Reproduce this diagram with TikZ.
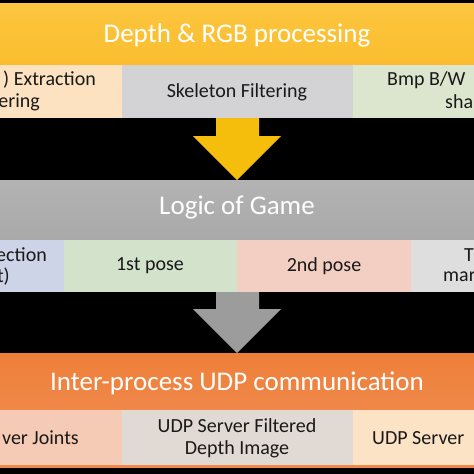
\documentclass[tikz,border=0pt]{standalone}
\usepackage{fontspec}
\setmainfont{Carlito}
\begin{document}
\begin{tikzpicture}[x=1pt,y=-1pt,
  title/.style={text=white,font=\fontsize{27}{30}\selectfont},
  txt/.style={text=black!90,font=\fontsize{20}{22}\selectfont,inner sep=0pt}]
\definecolor{cYel}{HTML}{FBBD2E}
\definecolor{cYelT}{HTML}{FCC63F}
\definecolor{cPeach}{HTML}{FDE2C2}
\definecolor{cGrayA}{HTML}{D3D3D6}
\definecolor{cGreenA}{HTML}{DCE5CD}
\definecolor{cArrY}{HTML}{F5BD0C}
\definecolor{cGrayBand}{HTML}{A9A9A9}
\definecolor{cGrayBandT}{HTML}{B3B3B3}
\definecolor{cLav}{HTML}{CED4E8}
\definecolor{cGreenB}{HTML}{D3E2CB}
\definecolor{cSalB}{HTML}{F2CFC2}
\definecolor{cGrayB}{HTML}{DEDEDE}
\definecolor{cArrG}{HTML}{9C9C9C}
\definecolor{cOrange}{HTML}{F0884A}
\definecolor{cOrangeT}{HTML}{EE7F38}
\definecolor{cSalC}{HTML}{F6CBB5}
\definecolor{cBeige}{HTML}{E0D9D4}
\definecolor{cPeachC}{HTML}{FCE3C5}
\useasboundingbox (0,0) rectangle (474,474);
\fill[black] (0,0) rectangle (474,474);
% band 1
\shade[top color=cYelT,bottom color=cYel] (0,3) rectangle (474,65);
\node[title] (t1) at (237,35) {Depth \& RGB processing};
\fill[cPeach] (0,65) rectangle (122,118);
\fill[cGrayA] (122,65) rectangle (353,118);
\fill[cGreenA] (353,65) rectangle (474,118);
\node[txt,anchor=east] (a1) at (96,80) {) Extraction};
\node[txt,anchor=east] (a2) at (40,102) {ering};
\node[txt] (a3) at (237,92) {Skeleton Filtering};
\node[txt,anchor=west] (a4) at (387,80) {Bmp B/W};
\node[txt,anchor=west] (a5) at (445,102) {sha};
% arrow 1
\fill[cArrY] (216,118) -- (259,118) -- (259,136) -- (281,136) -- (237,180) -- (193,136) -- (216,136) -- cycle;
% band 2
\shade[top color=cGrayBandT,bottom color=cGrayBand] (0,180) rectangle (474,240);
\node[title] (t2) at (237,208) {Logic of Game};
\fill[cLav] (0,240) rectangle (64,292);
\fill[cGreenB] (64,240) rectangle (237,292);
\fill[cSalB] (237,240) rectangle (411,292);
\fill[cGrayB] (411,240) rectangle (474,292);
\node[txt,anchor=east] (b1) at (47,255) {ection};
\node[txt,anchor=east] (b2) at (10,277) {t)};
\node[txt] (b3) at (150,266) {1st pose};
\node[txt] (b4) at (324,266) {2nd pose};
\node[txt,anchor=west] (b5) at (464,255) {T};
\node[txt,anchor=west] (b6) at (443,277) {mar};
% arrow 2
\fill[cArrG] (216,292) -- (259,292) -- (259,309) -- (281,309) -- (237,353) -- (193,309) -- (216,309) -- cycle;
% band 3
\shade[top color=cOrangeT,bottom color=cOrange] (0,353) rectangle (474,410);
\node[title] (t3) at (237,383) {Inter-process UDP communication};
\fill[cSalC] (0,410) rectangle (122,465);
\fill[cBeige] (122,410) rectangle (353,465);
\fill[cPeachC] (353,410) rectangle (474,465);
\fill[cOrange] (0,465) rectangle (474,468);
\node[txt,anchor=east] (c1) at (79,438) {ver Joints};
\node[txt,align=center] (c2) at (237,438) {UDP Server Filtered\\Depth Image};
\node[txt,anchor=west] (c3) at (372,438) {UDP Server};
\end{tikzpicture}
\end{document}
